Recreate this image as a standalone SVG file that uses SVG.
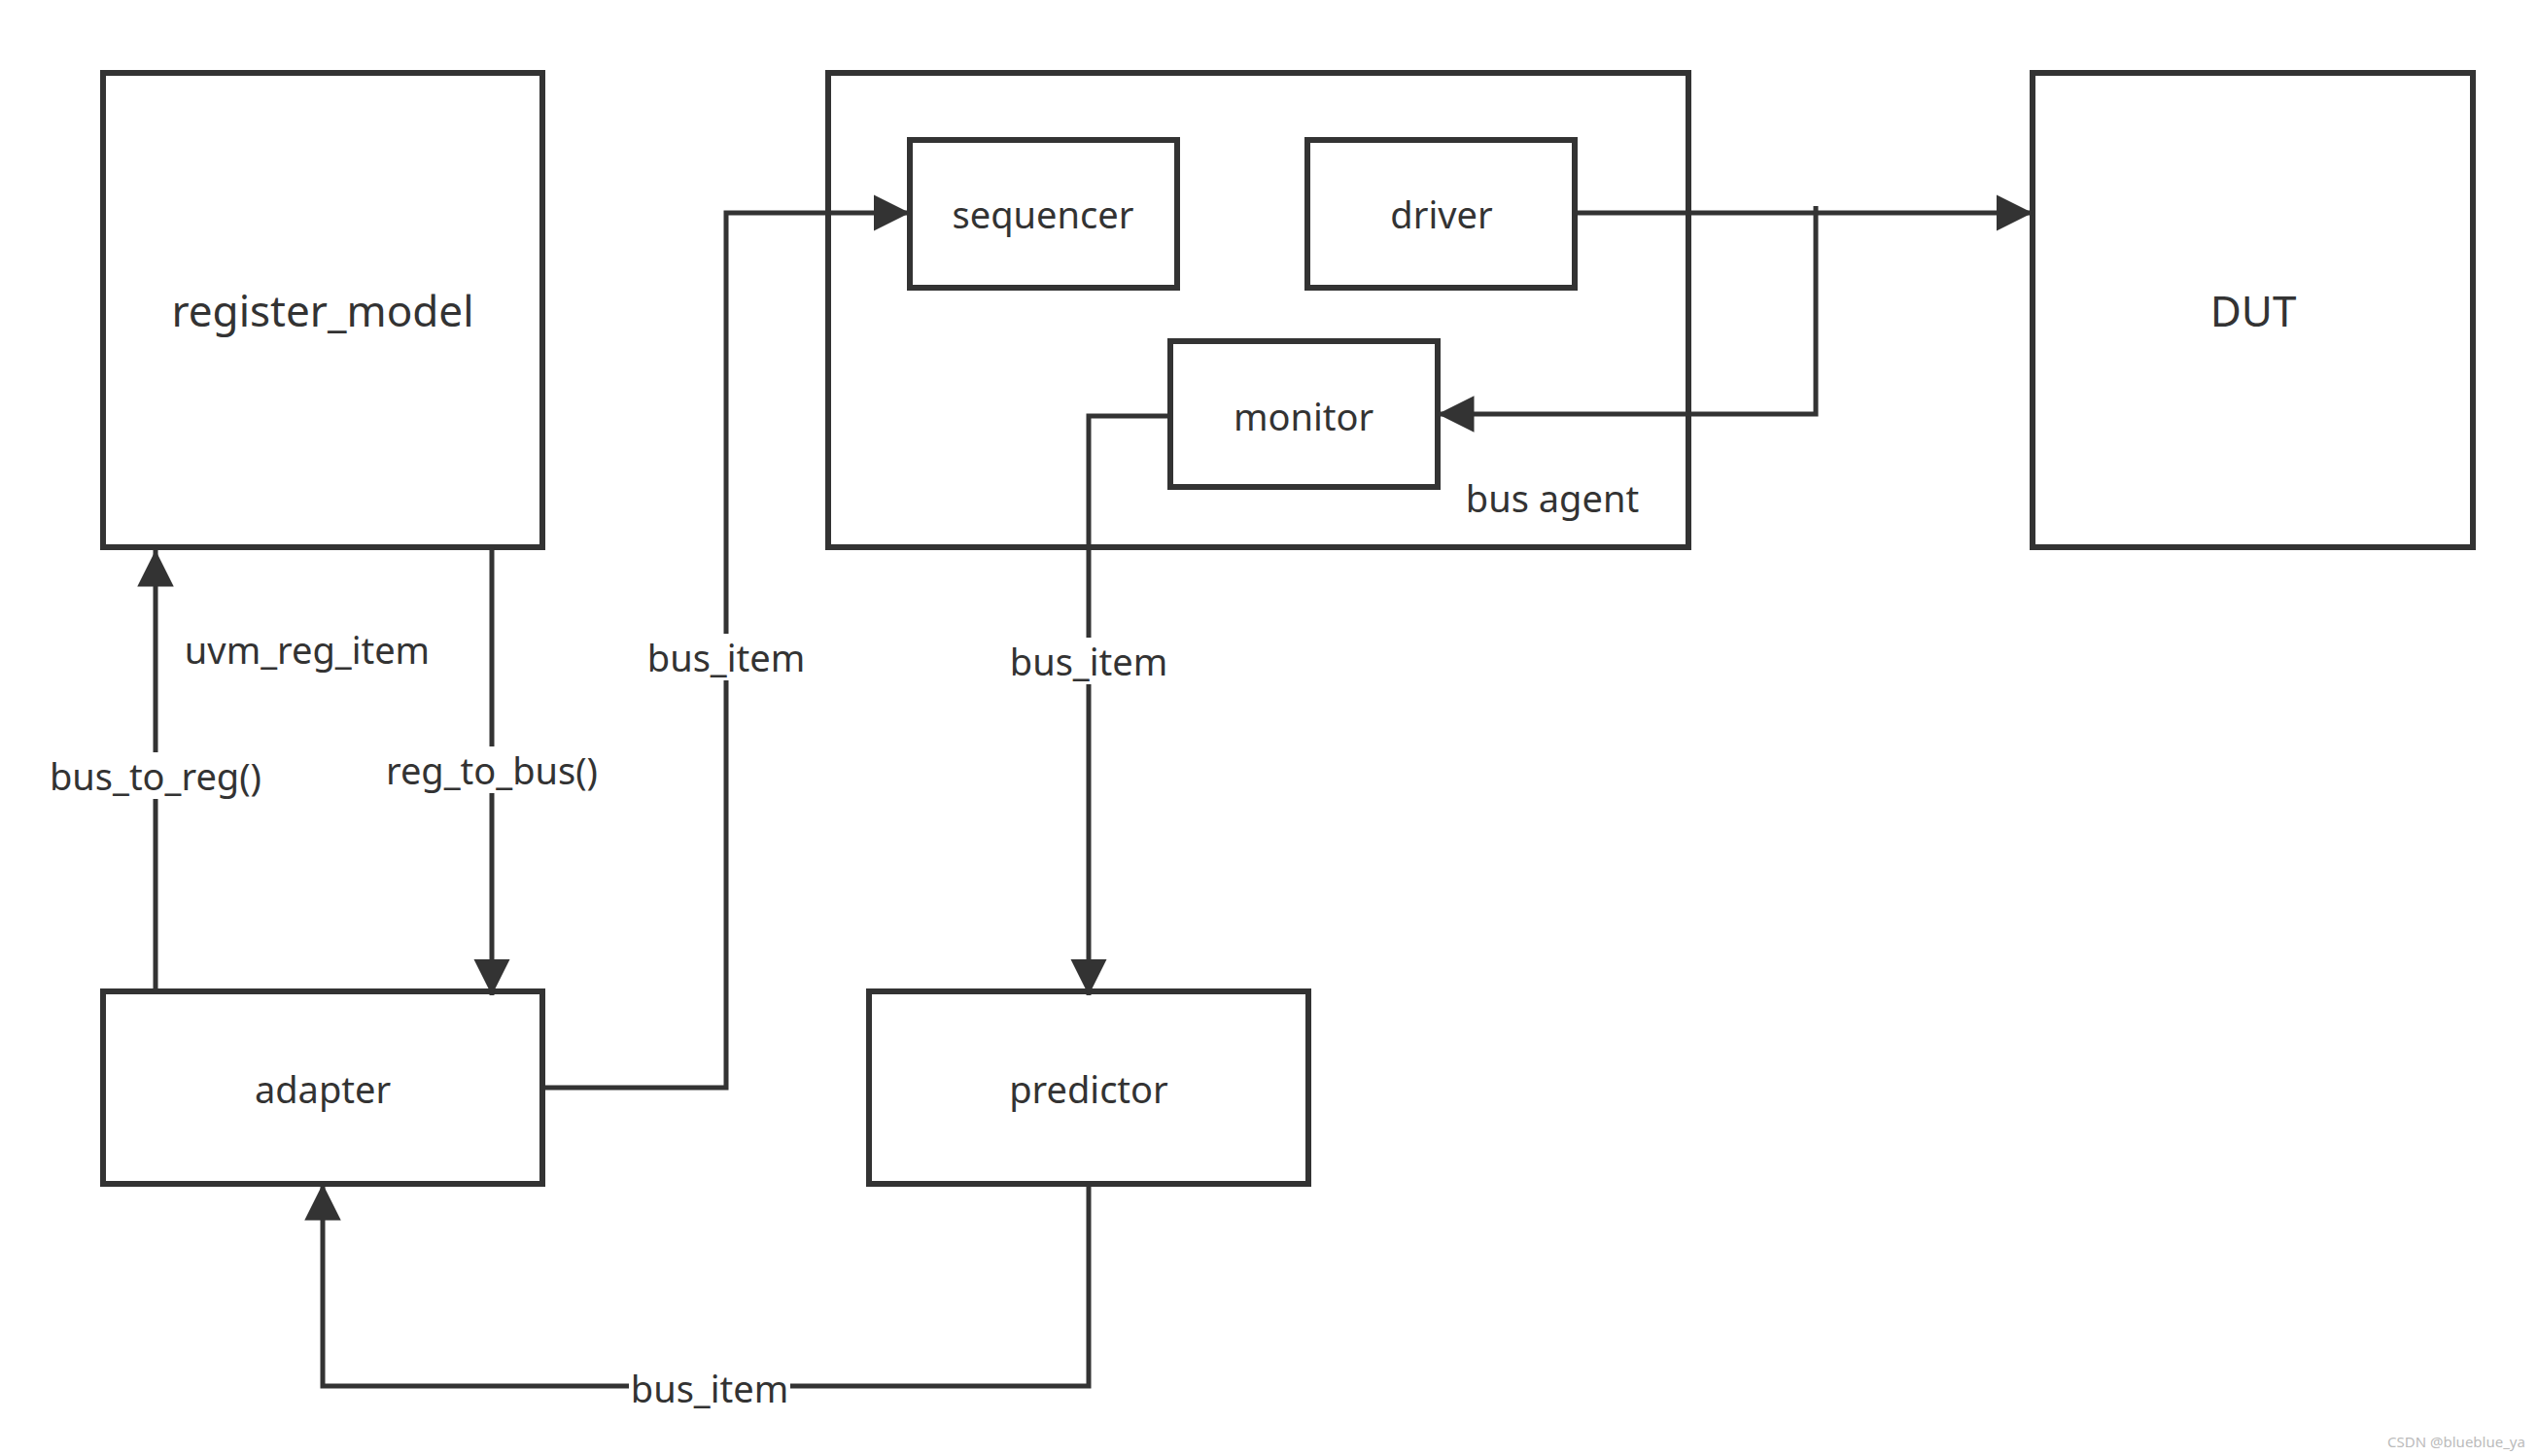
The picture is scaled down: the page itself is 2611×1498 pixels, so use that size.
<svg xmlns="http://www.w3.org/2000/svg" width="2611" height="1498" viewBox="0 0 2611 1498">
<style>
.b{fill:#fff;stroke:#333;stroke-width:6}
.c{fill:none;stroke:#333;stroke-width:5}
text{font-family:"Noto Sans","Liberation Sans",sans-serif;fill:#333;text-anchor:middle;dominant-baseline:central}
.s{font-size:38px}.l{font-size:44px}
.bg{fill:#fff}
</style>
<defs><marker id="a" viewBox="0 0 10 10" refX="10" refY="5" markerWidth="7" markerHeight="7" markerUnits="userSpaceOnUse" orient="auto"><path d="M0,0L10,5L0,10z" fill="#333"/></marker>
<marker id="m" viewBox="0 0 10 10" refX="10" refY="5" markerWidth="7.5" markerHeight="7.5" orient="auto"><path d="M0,0L10,5L0,10z" fill="#333"/></marker></defs>
<rect width="2611" height="1498" fill="#fff"/>
<g id="register_model"><rect class="b" x="106" y="75" width="452" height="488"/><text class="l" x="332" y="319">register_model</text></g>
<g id="bus_agent"><rect class="b" x="852" y="75" width="885" height="488"/><text class="s" x="1597" y="512">bus agent</text></g>
<g id="sequencer"><rect class="b" x="936" y="144" width="275" height="152"/><text class="s" x="1073" y="220">sequencer</text></g>
<g id="driver"><rect class="b" x="1345" y="144" width="275" height="152"/><text class="s" x="1483" y="220">driver</text></g>
<g id="monitor"><rect class="b" x="1204" y="351" width="275" height="150"/><text class="s" x="1341" y="428">monitor</text></g>
<g id="DUT"><rect class="b" x="2091" y="75" width="453" height="488"/><text class="l" x="2318" y="319">DUT</text></g>
<g id="adapter"><rect class="b" x="106" y="1020" width="452" height="198"/><text class="s" x="332" y="1120">adapter</text></g>
<g id="predictor"><rect class="b" x="894" y="1020" width="452" height="198"/><text class="s" x="1120" y="1120">predictor</text></g>
<g id="connectors">
<path class="c" d="M160,1020V566" marker-end="url(#m)"/>
<path class="c" d="M506,563V1024" marker-end="url(#m)"/>
<path class="c" d="M558,1119H747V219H936" marker-end="url(#m)"/>
<path class="c" d="M1620,219H2091" marker-end="url(#m)"/>
<path class="c" d="M1868,212V426H1479" marker-end="url(#m)"/>
<path class="c" d="M1204,428H1120V1024" marker-end="url(#m)"/>
<path class="c" d="M1120,1218V1426H332V1218" marker-end="url(#m)"/>
</g>
<g id="labels">
<text class="s" x="316" y="668">uvm_reg_item</text>
<rect class="bg" x="45" y="774" width="230" height="48"/><text class="s" x="160" y="798">bus_to_reg()</text>
<rect class="bg" x="390" y="768" width="232" height="48"/><text class="s" x="506" y="792">reg_to_bus()</text>
<rect class="bg" x="664" y="652" width="166" height="48"/><text class="s" x="747" y="676">bus_item</text>
<rect class="bg" x="1037" y="656" width="166" height="48"/><text class="s" x="1120" y="680">bus_item</text>
<rect class="bg" x="647" y="1404" width="166" height="48"/><text class="s" x="730" y="1428">bus_item</text>
<text x="2527" y="1483" style="font-size:15px;fill:#bbb">CSDN @blueblue_ya</text>
</g>
</svg>
